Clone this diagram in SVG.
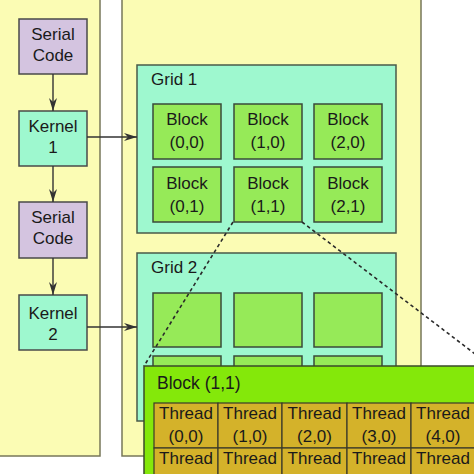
<svg xmlns="http://www.w3.org/2000/svg" width="474" height="474" viewBox="0 0 474 474">
<style>
.panel{fill:#fbfcb4;stroke:#77775a;stroke-width:1.5}
.serial{fill:#d4c4e0;stroke:#4a4a4a;stroke-width:1.5}
.kernel{fill:#9ef8cf;stroke:#4a4a4a;stroke-width:1.5}
.grid{fill:#9ef8cf;stroke:#4a5a4a;stroke-width:1.5}
.block{fill:#96ea58;stroke:#3a4a3a;stroke-width:1.5}
.big{fill:#84e80a;stroke:#3a4a2a;stroke-width:1.5}
.thread{fill:#d4b22a;stroke:#3a3a2a;stroke-width:1.2}
text{font-family:"Liberation Sans",Arial,sans-serif;font-size:17px;fill:#1a1a1a}
.c{text-anchor:middle}
.conn{stroke:#333;stroke-width:1.4;fill:none}
.dash{stroke:#2a2a2a;stroke-width:1.6;fill:none;stroke-dasharray:3.5 3}
</style>
<defs>
<marker id="arr" markerUnits="userSpaceOnUse" markerWidth="14" markerHeight="10" refX="13" refY="4.5" orient="auto">
<path d="M0,0.5 L13,4.5 L0,8.5 L4,4.5 z" fill="#333"/>
</marker>
</defs>
<g id="host-panel"><rect class="panel" x="-2" y="-2" width="102" height="458"/></g>
<g id="device-panel"><rect class="panel" x="122" y="-2" width="299" height="458"/></g>
<g id="serial1"><rect class="serial" x="19" y="19" width="68" height="55"/><text class="c" x="53" y="40">Serial</text><text class="c" x="53" y="61">Code</text></g>
<g id="kernel1"><rect class="kernel" x="19" y="111" width="68" height="55"/><text class="c" x="53" y="132">Kernel</text><text class="c" x="53" y="153">1</text></g>
<g id="serial2"><rect class="serial" x="19" y="202" width="68" height="56"/><text class="c" x="53" y="223">Serial</text><text class="c" x="53" y="244">Code</text></g>
<g id="kernel2"><rect class="kernel" x="19" y="295" width="68" height="55"/><text class="c" x="53" y="319">Kernel</text><text class="c" x="53" y="340">2</text></g>
<g id="grid1">
<rect class="grid" x="137" y="65" width="259" height="168"/>
<text x="151" y="85">Grid 1</text>
<rect class="block" x="153" y="104" width="68" height="55"/><text class="c" x="187" y="125">Block</text><text class="c" x="187" y="148">(0,0)</text>
<rect class="block" x="234" y="104" width="68" height="55"/><text class="c" x="268" y="125">Block</text><text class="c" x="268" y="148">(1,0)</text>
<rect class="block" x="314" y="104" width="68" height="55"/><text class="c" x="348" y="125">Block</text><text class="c" x="348" y="148">(2,0)</text>
<rect class="block" x="153" y="167" width="68" height="55"/><text class="c" x="187" y="189">Block</text><text class="c" x="187" y="212">(0,1)</text>
<rect class="block" x="234" y="167" width="68" height="55"/><text class="c" x="268" y="189">Block</text><text class="c" x="268" y="212">(1,1)</text>
<rect class="block" x="314" y="167" width="68" height="55"/><text class="c" x="348" y="189">Block</text><text class="c" x="348" y="212">(2,1)</text>
</g>
<g id="grid2">
<rect class="grid" x="137" y="253" width="259" height="168"/>
<text x="151" y="273">Grid 2</text>
<rect class="block" x="153" y="293" width="68" height="54"/>
<rect class="block" x="234" y="293" width="68" height="54"/>
<rect class="block" x="314" y="293" width="68" height="54"/>
<rect class="block" x="153" y="356" width="68" height="54"/>
<rect class="block" x="234" y="356" width="68" height="54"/>
<rect class="block" x="314" y="356" width="68" height="54"/>
</g>
<g id="connectors">
<line class="conn" x1="53" y1="74" x2="53" y2="111" marker-end="url(#arr)"/>
<line class="conn" x1="53" y1="166" x2="53" y2="202" marker-end="url(#arr)"/>
<line class="conn" x1="53" y1="258" x2="53" y2="295" marker-end="url(#arr)"/>
<line class="conn" x1="87" y1="137" x2="137" y2="137" marker-end="url(#arr)"/>
<line class="conn" x1="87" y1="327" x2="137" y2="327" marker-end="url(#arr)"/>
<line class="dash" x1="233" y1="222" x2="144" y2="366"/>
<line class="dash" x1="302" y1="222" x2="500" y2="373"/>
</g>
<g id="block11-detail">
<rect class="big" x="144" y="366" width="340" height="120"/>
<text x="157" y="389" style="font-size:17.5px">Block (1,1)</text>
<g id="threads">
<rect class="thread" x="154" y="403" width="64" height="45"/><text class="c" x="186" y="419">Thread</text><text class="c" x="186" y="442">(0,0)</text>
<rect class="thread" x="218" y="403" width="64" height="45"/><text class="c" x="250" y="419">Thread</text><text class="c" x="250" y="442">(1,0)</text>
<rect class="thread" x="282" y="403" width="65" height="45"/><text class="c" x="314.5" y="419">Thread</text><text class="c" x="314.5" y="442">(2,0)</text>
<rect class="thread" x="347" y="403" width="64" height="45"/><text class="c" x="379" y="419">Thread</text><text class="c" x="379" y="442">(3,0)</text>
<rect class="thread" x="411" y="403" width="64" height="45"/><text class="c" x="443" y="419">Thread</text><text class="c" x="443" y="442">(4,0)</text>
<rect class="thread" x="154" y="448" width="64" height="45"/><text class="c" x="186" y="464">Thread</text>
<rect class="thread" x="218" y="448" width="64" height="45"/><text class="c" x="250" y="464">Thread</text>
<rect class="thread" x="282" y="448" width="65" height="45"/><text class="c" x="314.5" y="464">Thread</text>
<rect class="thread" x="347" y="448" width="64" height="45"/><text class="c" x="379" y="464">Thread</text>
<rect class="thread" x="411" y="448" width="64" height="45"/><text class="c" x="443" y="464">Thread</text>
</g>
</g>
</svg>
